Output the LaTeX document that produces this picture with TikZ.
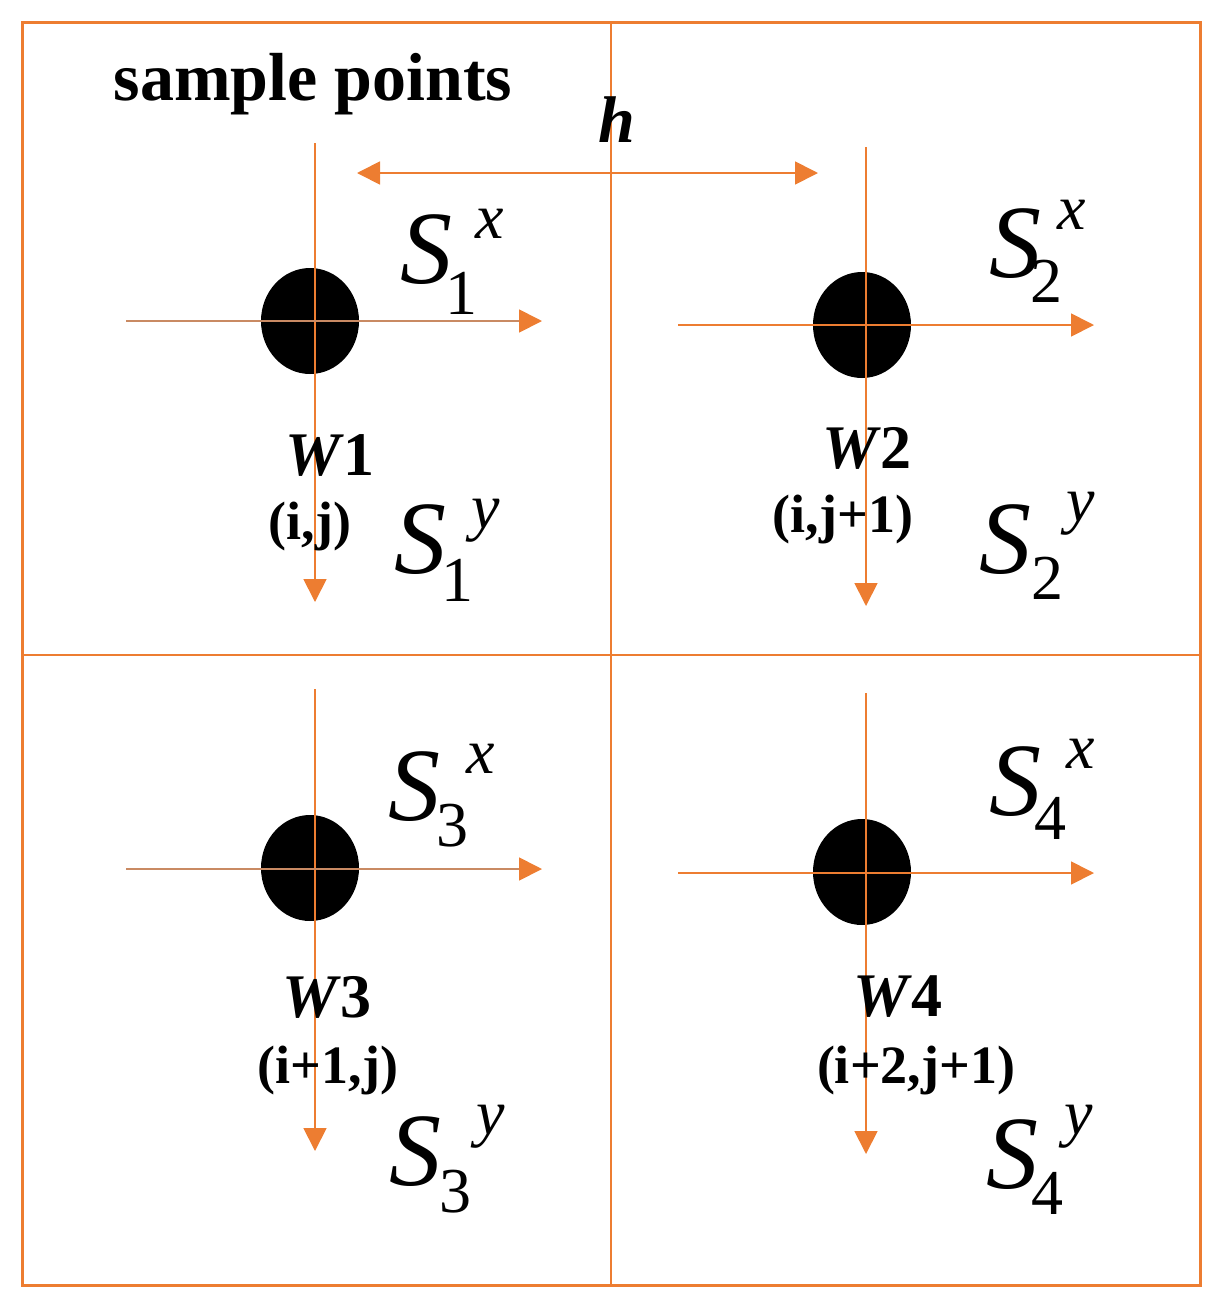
\documentclass[tikz,border=0pt]{standalone}
\usepackage{fontspec}
\setmainfont{Liberation Serif}
\usetikzlibrary{arrows.meta,shapes.geometric}
\definecolor{org}{HTML}{ED7D31}
\definecolor{orgb}{HTML}{C98A63}
\tikzset{
  frame/.style={draw=org, line width=3pt},
  grid/.style={draw=org, line width=1.8pt},
  tip/.style={},
  axv/.style={draw=org, line width=1.8pt, -{Triangle[length=23pt,width=23pt]}},
  axh/.style={draw=org, line width=1.8pt, -{Triangle[length=23pt,width=23pt]}},
  axhb/.style={draw=orgb, line width=1.8pt, -{Triangle[length=23pt,width=23pt,fill=org,color=org]}},
  harrow/.style={draw=org, line width=1.8pt, {Triangle[length=23pt,width=23pt]}-{Triangle[length=23pt,width=23pt]}},
  dot/.style={ellipse, fill=black, minimum width=98pt, minimum height=106pt, inner sep=0pt},
  bigS/.style={inner sep=0pt, font=\fontsize{104}{104}\selectfont\itshape},
  subd/.style={inner sep=0pt, font=\fontsize{64}{64}\selectfont},
  supl/.style={inner sep=0pt, font=\fontsize{64}{64}\selectfont\itshape},
  wlab/.style={inner sep=0pt, font=\fontsize{62}{62}\selectfont\bfseries},
  ijlab/.style={inner sep=0pt, font=\fontsize{54}{54}\selectfont\bfseries},
  title/.style={inner sep=0pt, font=\fontsize{68}{68}\selectfont\bfseries},
}
\newcommand{\Slab}[7]{%
  \node[bigS] (#1S) at (#2) {S};
  \node[subd] (#1b) at (#3) {#4};
  \node[supl] (#1p) at (#5) {#6};
}
\begin{document}
\begin{tikzpicture}[x=1pt,y=-1pt]
\useasboundingbox (0,0) rectangle (1227,1310);
% frame and grid
\coordinate (tl) at (22,22);
\coordinate (br) at (1200,1285);
\coordinate (vt) at (611,22);
\coordinate (vb) at (611,1285);
\coordinate (hl) at (22,655);
\coordinate (hr) at (1200,655);
\draw[grid] (vt) -- (vb);
\draw[grid] (hl) -- (hr);
\draw[frame] (tl) rectangle (br);
% dots
\node[dot] (d1) at (310,321) {};
\node[dot] (d2) at (862,325) {};
\node[dot] (d3) at (310,868) {};
\node[dot] (d4) at (862,872) {};
% axes cell 1
\coordinate (v1s) at (315,143); \coordinate (v1e) at (315,602);
\coordinate (h1s) at (126,321); \coordinate (h1e) at (542,321);
\draw[axv] (v1s) -- (v1e);
\draw[axhb] (h1s) -- (h1e);
% cell 2
\coordinate (v2s) at (866,147); \coordinate (v2e) at (866,606);
\coordinate (h2s) at (678,325); \coordinate (h2e) at (1094,325);
\draw[axv] (v2s) -- (v2e);
\draw[axh] (h2s) -- (h2e);
% cell 3
\coordinate (v3s) at (315,689); \coordinate (v3e) at (315,1151);
\coordinate (h3s) at (126,869); \coordinate (h3e) at (542,869);
\draw[axv] (v3s) -- (v3e);
\draw[axhb] (h3s) -- (h3e);
% cell 4
\coordinate (v4s) at (866,693); \coordinate (v4e) at (866,1154);
\coordinate (h4s) at (678,873); \coordinate (h4e) at (1094,873);
\draw[axv] (v4s) -- (v4e);
\draw[axh] (h4s) -- (h4e);
% h arrow
\coordinate (ha) at (357,173); \coordinate (hb) at (818,173);
\draw[harrow] (ha) -- (hb);
\node[inner sep=0pt, font=\fontsize{66}{66}\selectfont\bfseries\itshape] (hlab) at (617,120) {h};
\node[title] (ttl) at (313,84) {sample points};
% W labels
\node[wlab] (w1) at (330,455) {\textit{W}1};
\node[ijlab] (p1) at (310,527) {(i,j)};
\node[wlab] (w2) at (867,448) {\textit{W}2};
\node[ijlab] (p2) at (843,520) {(i,j+1)};
\node[wlab] (w3) at (327,997) {\textit{W}3};
\node[ijlab] (p3) at (328,1070) {(i+1,j)};
\node[wlab] (w4) at (898,997) {\textit{W}4};
\node[ijlab] (p4) at (916,1070) {(i+2,j+1)};
% S labels
\Slab{a}{426,250}{461,293}{1}{490,224}{x}{}
\Slab{b}{420,540}{457,580}{1}{486,521}{y}{}
\Slab{c}{1015,244}{1046,281}{2}{1072,215}{x}{}
\Slab{e}{1005,540}{1047,578}{2}{1081,514}{y}{}
\Slab{f}{414,787}{452,826}{3}{481,759}{x}{}
\Slab{g}{415,1152}{455,1192}{3}{491,1127}{y}{}
\Slab{k}{1015,782}{1050,818}{4}{1081,754}{x}{}
\Slab{m}{1012,1155}{1047,1193}{4}{1079,1127}{y}{}
\end{tikzpicture}
\end{document}
